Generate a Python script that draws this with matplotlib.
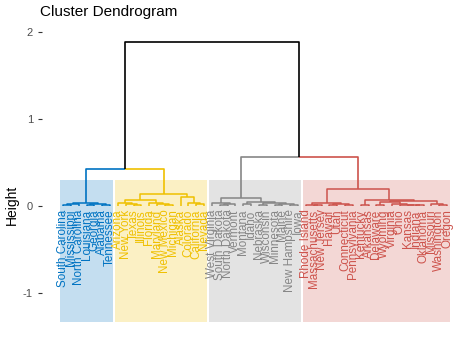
import matplotlib
matplotlib.use("Agg")
import matplotlib.pyplot as plt
from matplotlib.patches import Rectangle

plt.rcParams['font.family'] = ['Liberation Sans', 'DejaVu Sans']
plt.rcParams['axes.unicode_minus'] = False

# cluster colours (jco palette)
cluster_colors = ["#0073C2", "#EFC000", "#868686", "#CD534C"]

# subtrees: (height, left, right); leaves are state names
blue_tree = (0.035,
             (0.02, (0.012, "South Carolina", "Mississippi"), "North Carolina"),
             (0.02, (0.012, "Louisiana", "Georgia"), (0.01, "Alabama", "Tennessee")))

yellow_tree = (0.14,
               (0.07,
                (0.03, "Arizona", (0.02, "New York", (0.012, "Texas", "Illinois"))),
                (0.035, "Florida", (0.025, "Maryland", (0.015, "New Mexico", "Michigan")))),
               (0.1, "Alaska", (0.04, "Colorado", (0.02, "California", "Nevada"))))

gray_tree = (0.09,
             (0.035, "West Virginia", (0.02, (0.01, "South Dakota", "North Dakota"), "Vermont")),
             (0.045, (0.025, "Montana", "Idaho"),
              (0.03, (0.015, "Nebraska", "Wisconsin"),
               (0.02, (0.012, "Minnesota", "Maine"), (0.01, "New Hampshire", "Iowa")))))

red_tree = (0.2,
            (0.035, (0.015, "Rhode Island", (0.01, "Massachusetts", "New Jersey")),
             (0.02, (0.012, "Hawaii", "Utah"), (0.01, "Connecticut", "Pennsylvania"))),
            (0.07, (0.015, "Kentucky", "Arkansas"),
             (0.055,
              (0.045, (0.015, "Delaware", "Wyoming"),
               (0.02, "Virginia", (0.015, "Ohio", (0.012, "Kansas", (0.01, "Indiana", "Oklahoma"))))),
              (0.025, "Missouri", (0.012, "Washington", "Oregon")))))

top_heights = [1.885, 0.425, 0.56]   # root, blue+yellow, gray+red
rect_top, rect_bottom = 0.30, -1.33

fig = plt.figure(figsize=(4.74, 3.44), dpi=100)
W, H = 474, 344
ax = fig.add_axes([42 / W, (H - 330) / H, (468 - 42) / W, (330 - 24) / H])

leaves = []
leaf_cols = []


def draw(node, color):
    """returns (x, h) of node, draws its sub-branches"""
    if isinstance(node, str):
        leaves.append(node)
        leaf_cols.append(color)
        return len(leaves) - 1, 0.0
    h, l, r = node
    pts = [draw(l, color), draw(r, color)]
    x = (pts[0][0] + pts[1][0]) / 2
    for cx, ch in pts:
        ax.plot([cx, cx, x], [ch, h, h], color=color, lw=1.1, solid_capstyle='butt')
    return x, h


def count(n):
    return 1 if isinstance(n, str) else count(n[1]) + count(n[2])


trees = [blue_tree, yellow_tree, gray_tree, red_tree]
tops = [draw(t, c) for t, c in zip(trees, cluster_colors)]
counts = [count(t) for t in trees]


# upper joins (black above cluster tops)
def join(a, b, h, cols):
    x = (a[0] + b[0]) / 2
    for (cx, ch), c in zip([a, b], cols):
        ax.plot([cx, cx, x], [ch, h, h], color=c, lw=1.2, solid_capstyle='butt')
    return x, h


left = join(tops[0], tops[1], top_heights[1], cluster_colors[:2])
right = join(tops[2], tops[3], top_heights[2], cluster_colors[2:])
join(left, right, top_heights[0], ["black", "black"])

# rectangles
start = 0
for n, c in zip(counts, cluster_colors):
    ax.add_patch(Rectangle((start - 0.35, rect_bottom), n - 1 + 0.7, rect_top - rect_bottom,
                           facecolor=c, alpha=0.23, edgecolor='none', zorder=0))
    start += n

for i, (name, c) in enumerate(zip(leaves, leaf_cols)):
    ax.text(i, -0.04, name, rotation=90, ha='center', va='top', color=c, fontsize=8.4)

px = 7.837
ax.set_xlim(-21 / px, (468 - 63) / px)
ax.set_ylim((206 - 330) / 87, (206 - 24) / 87)
ax.set_yticks([-1, 0, 1, 2])
ax.set_xticks([])
ax.tick_params(axis='y', colors='#333333', labelcolor='#4D4D4D', labelsize=8, length=3, width=0.8)
for s in ax.spines.values():
    s.set_visible(False)

fig.text(40 / W, 1 - 12 / H, "Cluster Dendrogram", fontsize=11, ha='left', va='center')
fig.text(12 / W, 1 - 205 / H, "Height", fontsize=10, rotation=90, ha='center', va='center')

fig.savefig("out.png", dpi=100)
